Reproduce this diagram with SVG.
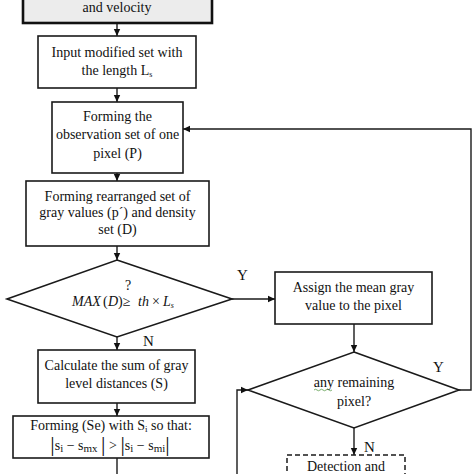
<svg xmlns="http://www.w3.org/2000/svg" width="474" height="474" viewBox="0 0 474 474">
<style>
.box{fill:#fff;stroke:#1a1a1a;stroke-width:1.6}
.top{fill:#ececec;stroke:#111;stroke-width:2.6}
.dash{fill:#fff;stroke:#1a1a1a;stroke-width:1.5;stroke-dasharray:5 3}
.t{font-family:"Liberation Serif","DejaVu Serif",serif;font-size:14px;fill:#111;text-anchor:middle}
.m{font-family:"Liberation Serif","DejaVu Serif",serif;font-size:14px;fill:#111}
.lab{font-family:"Liberation Serif","DejaVu Serif",serif;font-size:15px;fill:#111}
.c{fill:none;stroke:#1a1a1a;stroke-width:1.4}
.sq{fill:none;stroke:#5a9a4a;stroke-width:0.8}
</style>
<defs>
<marker id="ar" markerUnits="userSpaceOnUse" markerWidth="8" markerHeight="8" refX="7" refY="4" orient="auto">
<path d="M0,0.8 L7,4 L0,7.2 Z" fill="#111"/>
</marker>
</defs>
<rect width="474" height="474" fill="#fff"/>
<g id="connectors">
<path class="c" d="M117,23 V36" marker-end="url(#ar)"/>
<path class="c" d="M117,88 V102" marker-end="url(#ar)"/>
<path class="c" d="M117,173 V181" marker-end="url(#ar)"/>
<path class="c" d="M117,246 V260" marker-end="url(#ar)"/>
<path class="c" d="M117,337 V350" marker-end="url(#ar)"/>
<path class="c" d="M117,403 V416" marker-end="url(#ar)"/>
<path class="c" d="M117,458 V474"/>
<path class="c" d="M232,299 H275" marker-end="url(#ar)"/>
<path class="c" d="M354,324 V352" marker-end="url(#ar)"/>
<path class="c" d="M459,390 H471 V129 H183" marker-end="url(#ar)"/>
<path class="c" d="M354,428 V455" marker-end="url(#ar)"/>
<path class="c" d="M237,474 V390 H248" marker-end="url(#ar)"/>
<text class="lab" x="237" y="280">Y</text>
<text class="lab" x="143" y="346">N</text>
<text class="lab" x="433" y="372">Y</text>
<text class="lab" x="364" y="452">N</text>
</g>
<g id="n1">
<rect class="top" x="23" y="-20" width="189" height="43"/>
<text class="t" x="117" y="12">and velocity</text>
</g>
<g id="n2">
<rect class="box" x="38" y="36" width="158" height="52"/>
<text class="t" x="117" y="57">Input modified set with</text>
<text class="t" x="117" y="75">the length L<tspan font-size="8" dy="2">s</tspan></text>
</g>
<g id="n3">
<rect class="box" x="52" y="102" width="131" height="71"/>
<text class="t" x="117.5" y="121">Forming the</text>
<text class="t" x="117.5" y="139">observation set of one</text>
<text class="t" x="117.5" y="158">pixel (P)</text>
</g>
<g id="n4">
<rect class="box" x="26" y="181" width="183" height="65"/>
<text class="t" x="117.5" y="201">Forming rearranged set of</text>
<text class="t" x="117.5" y="217">gray values (p´) and density</text>
<text class="t" x="117.5" y="234">set (D)</text>
</g>
<g id="n5">
<polygon class="box" points="117,260 232,299 117,337 7,299"/>
<text class="m" x="72" y="306" font-style="italic">MAX</text>
<text class="m" x="103" y="306">(</text>
<text class="m" x="108" y="306" font-style="italic">D</text>
<text class="m" x="118" y="306">)≥</text>
<text class="m" x="138" y="306" font-style="italic">th</text>
<text class="m" x="152" y="306">×</text>
<text class="m" x="163" y="306" font-style="italic">L<tspan font-size="8" dy="2">s</tspan></text>
<text class="t" x="128" y="290" font-size="8">?</text>
</g>
<g id="n6">
<rect class="box" x="275" y="272" width="157" height="52"/>
<text class="t" x="353.5" y="292">Assign the mean gray</text>
<text class="t" x="353.5" y="310">value to the pixel</text>
</g>
<g id="n7">
<polygon class="box" points="354,352 459,390 354,428 248,390"/>
<text class="t" x="354" y="387">any remaining</text>
<path class="sq" d="M314,390 q1.5,-1.5 3,0 t3,0 t3,0 t3,0 t3,0 t3,0"/>
<text class="t" x="354" y="406">pixel?</text>
</g>
<g id="n8">
<rect class="box" x="38" y="350" width="157" height="53"/>
<text class="t" x="116.5" y="370">Calculate the sum of gray</text>
<text class="t" x="116.5" y="388">level distances (S)</text>
</g>
<g id="n9">
<rect class="box" x="13" y="416" width="196" height="42"/>
<text class="t" x="111" y="430">Forming (Se) with S<tspan font-size="9" dy="2">i</tspan><tspan dy="-2"> so that:</tspan></text>
<text class="t" x="110" y="450"><tspan font-size="22" dy="1">|</tspan><tspan dy="-1">s</tspan><tspan font-size="11" dy="2">i</tspan><tspan dy="-2"> − s</tspan><tspan font-size="11" dy="2">mx</tspan><tspan dy="-2"> </tspan><tspan font-size="22" dy="1">|</tspan><tspan dy="-1"> &gt; </tspan><tspan font-size="22" dy="1">|</tspan><tspan dy="-1">s</tspan><tspan font-size="11" dy="2">i</tspan><tspan dy="-2"> − s</tspan><tspan font-size="11" dy="2">mi</tspan><tspan font-size="22" dy="-1">|</tspan></text>
</g>
<g id="n10">
<rect class="dash" x="287" y="455" width="118" height="30"/>
<text class="t" x="346" y="471">Detection and</text>
</g>
</svg>
